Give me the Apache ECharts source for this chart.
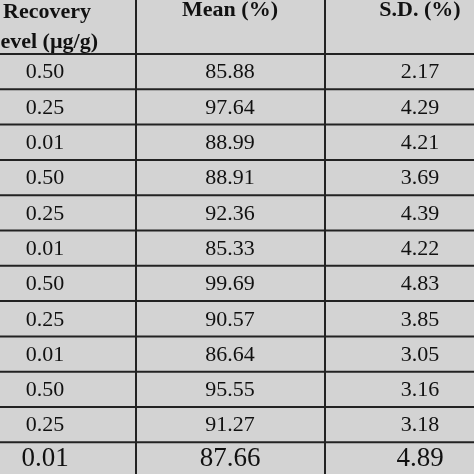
<!doctype html>
<html>
<head>
<meta charset="utf-8">
<script src="https://cdn.jsdelivr.net/npm/echarts@6/dist/echarts.min.js"></script>
<style>html,body{margin:0;padding:0;background:#d3d3d3}#c{width:474px;height:474px}</style>
</head>
<body>
<div id="c"></div>
<script>
var levels = ['0.50','0.25','0.01','0.50','0.25','0.01','0.50','0.25','0.01','0.50','0.25','0.01'];
var means = ['85.88','97.64','88.99','88.91','92.36','85.33','99.69','90.57','86.64','95.55','91.27','87.66'];
var sds = ['2.17','4.29','4.21','3.69','4.39','4.22','4.83','3.85','3.05','3.16','3.18','4.89'];
var headers = ['Mean (%)', 'S.D. (%)'];

var chart = echarts.init(document.getElementById('c'));
var headH = 54, rowH = 35.3, colX = [45, 230, 420], vLines = [136, 325];
var fam = 'Liberation Serif';

function rowTop(i) { return headH + i * rowH; }

var rows = levels.map(function (l, i) { return [i, l, means[i], sds[i]]; });

function txt(t, x, y, align, size, bold) {
  return { type: 'text', style: { text: t, x: x, y: y, align: align, verticalAlign: 'middle',
    fontFamily: fam, fontSize: size, fontWeight: bold ? 'bold' : 'normal', fill: '#111' } };
}

chart.setOption({
  backgroundColor: '#d3d3d3',
  animation: false,
  grid: { left: 0, right: 0, top: 0, bottom: 0 },
  xAxis: { type: 'value', min: 0, max: 474, show: false },
  yAxis: { type: 'value', min: 0, max: 474, inverse: true, show: false },
  series: [{
    type: 'custom',
    data: rows,
    renderItem: function (params, api) {
      var i = api.value(0);
      var top = api.coord([0, rowTop(i)]);
      var bot = api.coord([0, i === levels.length - 1 ? 474 : rowTop(i + 1)]);
      var cy = (top[1] + bot[1]) / 2 + 1;
      var fs = i === levels.length - 1 ? 27 : 22;
      var children = [{
        type: 'line', shape: { x1: 0, y1: top[1], x2: 474, y2: top[1] },
        style: { stroke: '#222', lineWidth: 2 }
      }];
      [rows[i][1], rows[i][2], rows[i][3]].forEach(function (t, k) {
        var p = api.coord([colX[k], 0]);
        children.push(txt(t, p[0], cy, 'center', fs, false));
      });
      return { type: 'group', children: children };
    }
  }, {
    type: 'custom',
    data: [0],
    renderItem: function (params, api) {
      var children = [];
      vLines.forEach(function (x) {
        var p = api.coord([x, 0]);
        children.push({ type: 'line', shape: { x1: p[0], y1: 0, x2: p[0], y2: 474 },
                        style: { stroke: '#222', lineWidth: 2 } });
      });
      children.push(txt('Recovery', 47, 12, 'center', 22, true));
      children.push(txt('Level (\u00b5g/g)', 98, 42, 'right', 22, true));
      children.push(txt(headers[0], colX[1], 10, 'center', 22, true));
      children.push(txt(headers[1], colX[2], 10, 'center', 22, true));
      return { type: 'group', children: children };
    }
  }]
});
</script>
</body>
</html>
